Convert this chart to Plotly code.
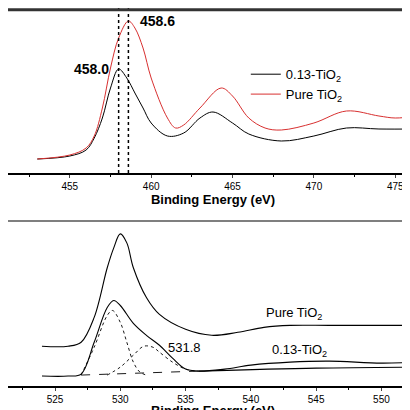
import plotly.graph_objects as go

# Ti2p spectra (binding energy eV, intensity in arbitrary units)
ti_x_013 = [453, 455, 456, 456.5, 457, 457.5, 458.0, 458.5, 459, 459.5, 460, 461, 462, 463, 463.8, 465, 466, 468, 470, 472, 474, 476.4]
ti_y_013 = [151, 148, 142, 130, 110, 80, 61, 70, 85, 100, 115, 128, 125, 110, 104, 115, 126, 133, 128, 120, 121, 121]
ti_x_pure = [453, 455, 456, 456.5, 457, 457.5, 458, 458.6, 459, 459.5, 460, 461, 461.5, 462, 463, 464.3, 465, 466, 467, 468, 470, 472, 474, 475, 476.4]
ti_y_pure = [151, 147, 140, 128, 100, 60, 30, 13, 20, 40, 70, 110, 120, 117, 100, 80, 88, 110, 120, 122, 115, 103, 108, 110, 108]

# O1s spectra
o_x_pure = [524, 526, 527, 528, 529, 529.5, 530, 530.5, 531, 532, 533, 535, 537, 539, 541, 543, 546, 550, 552.8]
o_y_pure = [339, 339, 335, 310, 260, 240, 226, 235, 260, 290, 307, 322, 328, 325, 320, 318, 318, 318, 318]
o_x_013 = [524, 526, 527, 528, 529, 529.5, 530, 531, 532, 533, 534, 535, 536, 538, 540, 543, 546, 550, 552.8]
o_y_013 = [369, 369, 367, 335, 300, 293, 298, 316, 328, 338, 351, 362, 364, 362, 358, 355, 354, 356, 355]
comp1_x = [527, 528, 529, 529.4, 530, 530.5, 531, 531.5, 532]
comp1_y = [368, 340, 308, 303, 315, 335, 355, 365, 368]
comp2_x = [529, 530, 531, 531.8, 532.5, 533, 534, 535, 536]
comp2_y = [368, 360, 348, 339, 340, 345, 355, 362, 364]
base_x = [527, 536]
base_y = [368, 364]
bg_x = [536, 545, 552.8]
bg_y = [364, 361, 360]

peak_lines = [458.0, 458.6]


def neg(v):
    return [-a for a in v]


fig = go.Figure()
fig.add_trace(go.Scatter(x=ti_x_013, y=neg(ti_y_013), mode="lines", line=dict(color="black", width=1, shape="spline"),
                         name="0.13-TiO<sub>2</sub>", xaxis="x", yaxis="y"))
fig.add_trace(go.Scatter(x=ti_x_pure, y=neg(ti_y_pure), mode="lines", line=dict(color="#d83030", width=1, shape="spline"),
                         name="Pure TiO<sub>2</sub>", xaxis="x", yaxis="y"))
for xs, ys, dash in [(o_x_pure, o_y_pure, "solid"), (o_x_013, o_y_013, "solid"), (bg_x, bg_y, "solid"),
                     (comp1_x, comp1_y, "dot"), (comp2_x, comp2_y, "dot"), (base_x, base_y, "dash")]:
    fig.add_trace(go.Scatter(x=xs, y=neg(ys), mode="lines", showlegend=False,
                             line=dict(color="black", width=1.1 if dash == "solid" else 0.9, dash=dash, shape="spline"),
                             xaxis="x2", yaxis="y2"))

for v in peak_lines:
    fig.add_shape(type="line", x0=v, x1=v, y0=0, y1=1, xref="x", yref="y domain",
                  line=dict(color="black", width=1.5, dash="dot"))
fig.add_shape(type="line", x0=0, x1=1, y0=0.996, y1=0.996, xref="paper", yref="paper", line=dict(color="#333", width=3))
fig.add_shape(type="line", x0=0, x1=1, y0=1, y1=1, xref="paper", yref="y2 domain", line=dict(color="#555", width=1.5))

bold = dict(family="Liberation Sans", size=14, color="black")
ann = [
    dict(x=458.0, y=-61, xref="x", yref="y", text="<b>458.0</b>", xanchor="right", xshift=-8, yanchor="middle", showarrow=False, font=bold),
    dict(x=458.6, y=-13, xref="x", yref="y", text="<b>458.6</b>", xanchor="left", xshift=10, yanchor="middle", showarrow=False, font=bold),
    dict(x=1.0, y=-25, xref="paper", yref="y", text="<b>Ti2p</b>", xanchor="right", xshift=28, showarrow=False, font=dict(family="Liberation Sans", size=16, color="black")),
    dict(x=1.0, y=-233, xref="paper", yref="y2", text="<b>O1s</b>", xanchor="right", xshift=22, showarrow=False, font=dict(family="Liberation Sans", size=16, color="black")),
    dict(x=541, y=-306, xref="x2", yref="y2", text="Pure TiO<sub>2</sub>", xanchor="left", showarrow=False, font=dict(family="Liberation Sans", size=13, color="black")),
    dict(x=541.5, y=-343, xref="x2", yref="y2", text="0.13-TiO<sub>2</sub>", xanchor="left", showarrow=False, font=dict(family="Liberation Sans", size=13, color="black")),
    dict(x=533.5, y=-340, xref="x2", yref="y2", text="531.8", xanchor="left", showarrow=False, font=dict(family="Liberation Sans", size=13, color="black")),
]

axis_common = dict(showline=True, linecolor="black", linewidth=1.5, ticks="outside", ticklen=3,
                   tickfont=dict(family="Liberation Sans", size=10, color="black"), showgrid=False, zeroline=False,
                   dtick=5, minor=dict(dtick=2.5, ticks="outside", ticklen=2, tickcolor="black", showgrid=False))
title_font = dict(family="Liberation Sans", size=13, color="black")
fig.update_layout(
    width=410, height=410, margin=dict(l=0, r=0, t=0, b=0),
    plot_bgcolor="white", paper_bgcolor="white",
    xaxis=dict(axis_common, domain=[0, 1], range=[451.2, 476.4], anchor="y",
               title=dict(text="<b>Binding Energy (eV)</b>", font=title_font, standoff=0)),
    yaxis=dict(domain=[1 - 165 / 410, 1], range=[-165, 0], visible=False, anchor="x"),
    xaxis2=dict(axis_common, domain=[0, 1], range=[521.4, 552.8], anchor="y2",
                title=dict(text="<b>Binding Energy (eV)</b>", font=title_font, standoff=0)),
    yaxis2=dict(domain=[1 - 378 / 410, 1 - 213 / 410], range=[-379, -213], visible=False, anchor="x2"),
    legend=dict(x=0.58, y=0.875, xanchor="left", yanchor="top", bgcolor="rgba(0,0,0,0)",
                font=dict(family="Liberation Sans", size=13, color="black"), tracegroupgap=0),
    annotations=ann,
)
fig.write_html("out.html")
